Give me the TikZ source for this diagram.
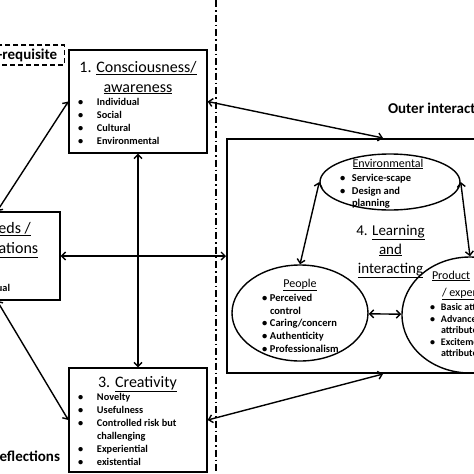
\documentclass[tikz,border=0pt]{standalone}
\usepackage{fontspec}
\setmainfont{Carlito}
\usetikzlibrary{
arrows.meta,
graphs,
shapes.geometric,
}
\tikzset{
outer sep=auto,
box/.style={rectangle, draw, line width=1.3pt},
dashbox/.style={rectangle, draw, line width=1.5pt, dash pattern=on 5pt off 3pt},
bigbox/.style={rectangle, draw, line width=2pt},
oval/.style={ellipse, draw, line width=1.4pt},
ttl/.style={inner sep=0pt, align=center, font=\fontsize{16}{20}\selectfont},
big/.style={inner sep=0pt, align=center, font=\fontsize{15}{19}\selectfont},
lbl/.style={inner sep=0pt, font=\fontsize{15}{19}\selectfont\bfseries},
hd/.style={inner sep=0pt, font=\fontsize{12}{14}\selectfont},
lst/.style={inner sep=0pt, align=left, font=\fontsize{10.3}{13}\selectfont\bfseries},
olst/.style={inner sep=0pt, align=left, font=\fontsize{10.5}{12.7}\selectfont\bfseries},
plst/.style={inner sep=0pt, align=left, font=\fontsize{10}{11.5}\selectfont\bfseries},
>={Straight Barb[length=4pt,width=8pt]},
}
\newcommand\itm[2][19pt]{\makebox[#1][l]{\textbullet}#2}
\newcommand\cnt[2][19pt]{\hspace*{#1}#2}

\begin{document}
\begin{tikzpicture}[x=1pt, y=-1pt, line width=1.4pt]
\useasboundingbox (0,0) rectangle (474,474);
\clip (0,0) rectangle (474,474);

% inner / outer divide
\draw[line width=1.5pt, dash pattern=on 7pt off 3pt on 1.5pt off 3pt] (216,0) -- (216,474);

% left side (base = last line)
\node (pre) [dashbox, lbl, anchor=east, inner xsep=7pt, minimum height=20pt] at (65,55) {Pre-requisite};
\node (refl) [lbl, anchor=base east] at (60,461) {Reflections};

\node (cons) [box, minimum width=138pt, minimum height=103pt] at (138,101.5) {};
\node (cons-t) [ttl, anchor=base] at (138,92) {1. \underline{Consciousness/}\\\underline{awareness}};
\node (cons-l) [lst, anchor=base west] at (78,144)
    {\itm{Individual}\\\itm{Social}\\\itm{Cultural}\\\itm{Environmental}};

\node (needs) [box, minimum width=126pt, minimum height=88pt] at (-3,256) {};
\node (needs-t) [ttl, anchor=base] at (-3,253) {2. \underline{Needs /}\\\underline{expectations}};
\node (needs-l) [lst, anchor=base east] at (10,291) {Individual};

\node (crea) [box, minimum width=138pt, minimum height=104pt] at (138,420) {};
\node (crea-t) [ttl, anchor=base] at (137.5,387) {3. \underline{Creativity}};
\node (crea-l) [lst, anchor=base west] at (78,465.5)
    {\itm{Novelty}\\\itm{Usefulness}\\\itm{Controlled risk but}\\\cnt{challenging}\\\itm{Experiential}\\\itm{existential}};

% right side
\node (outer) [lbl, anchor=base west] at (388,113) {Outer interaction};
\node (learn) [bigbox, anchor=north west, minimum width=320pt, minimum height=234pt] at (226,138) {};
\node (learn-t) [big, anchor=base] at (390.5,273) {4. \underline{Learning}\\\underline{and}\\\underline{interacting}};

\node (env) [oval, minimum width=140pt, minimum height=56pt] at (390,182) {};
\node (env-t) [hd, anchor=base] at (388,167) {\underline{Environmental}};
\node (env-l) [olst, anchor=base west] at (340,206.9)
    {\itm[12pt]{Service-scape}\\\itm[12pt]{Design and}\\\cnt[12pt]{planning}};

\node (ppl) [oval, minimum width=136pt, minimum height=96pt] at (300,313) {};
\node (ppl-t) [hd, anchor=base] at (300,287) {\underline{People}};
\node (ppl-l) [olst, anchor=base west] at (262,352.3)
    {\itm[8pt]{Perceived}\\\cnt[8pt]{control}\\\itm[8pt]{Caring/concern}\\\itm[8pt]{Authenticity}\\\itm[8pt]{Professionalism}};

\node (prod) [oval, minimum width=136pt, minimum height=116pt] at (470,315) {};
\node (prod-t) [hd, anchor=base west] at (432,279) {\underline{Product}};
\node (prod-t2) [hd, anchor=base west] at (442,296) {\underline{/ experience}};
\node (prod-l) [plst, anchor=base west] at (430,356.5)
    {\itm[11pt]{Basic attributes}\\\itm[11pt]{Advanced}\\\cnt[11pt]{attributes}\\\itm[11pt]{Excitement}\\\cnt[11pt]{attributes}};

% links
\draw[<->] (needs.north) -- (cons.west);
\draw[<->] (needs.south) -- (crea.west);
\draw[<->] (cons.east) -- ([xshift=157pt]learn.north west);
\draw[<->] (crea.east) -- ([xshift=157pt]learn.south west);
\draw[<->] (env.west) -- (ppl.north);
\draw[<->] (env.east) -- (prod.north);
\graph [use existing nodes] {
    cons <-> crea;
    needs <-> learn;
    ppl <-> prod;
};
\end{tikzpicture}
\end{document}
